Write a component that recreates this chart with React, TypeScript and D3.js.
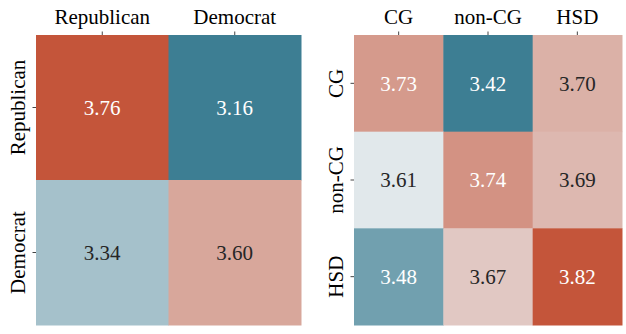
import React, { useEffect, useRef } from "react";
import * as d3 from "d3";

const leftLabels = ["Republican", "Democrat"];
const leftValues = [
  [3.76, 3.16],
  [3.34, 3.6],
];
const rightLabels = ["CG", "non-CG", "HSD"];
const rightValues = [
  [3.73, 3.42, 3.7],
  [3.61, 3.74, 3.69],
  [3.48, 3.67, 3.82],
];

const BLUE = "#3d7e93";
const MID = "#eaeef0";
const RED = "#c4553a";
const FONT = "'Liberation Serif', 'Times New Roman', serif";

function luminance(c: string) {
  const rgb = d3.rgb(c);
  const f = (v: number) => {
    const s = v / 255;
    return s <= 0.03928 ? s / 12.92 : Math.pow((s + 0.055) / 1.055, 2.4);
  };
  return 0.2126 * f(rgb.r) + 0.7152 * f(rgb.g) + 0.0722 * f(rgb.b);
}

function drawHeatmap(
  svg: d3.Selection<SVGSVGElement, unknown, null, undefined>,
  labels: string[],
  values: number[][],
  x0: number,
  x1: number,
  y0: number,
  y1: number
) {
  const flat = values.flat();
  const vmin = d3.min(flat)!;
  const vmax = d3.max(flat)!;
  const color = d3
    .scaleLinear<string>()
    .domain([vmin, (vmin + vmax) / 2, vmax])
    .range([BLUE, MID, RED])
    .interpolate(d3.interpolateRgb);
  const x = d3.scaleBand<string>().domain(labels).range([x0, x1]).padding(0);
  const y = d3.scaleBand<string>().domain(labels).range([y0, y1]).padding(0);
  const g = svg.append("g");
  const cells: { r: string; c: string; v: number }[] = [];
  values.forEach((row, i) =>
    row.forEach((v, j) => cells.push({ r: labels[i], c: labels[j], v }))
  );
  g.selectAll("rect.cell")
    .data(cells)
    .enter()
    .append("rect")
    .attr("x", (d) => x(d.c)!)
    .attr("y", (d) => y(d.r)!)
    .attr("width", x.bandwidth() + 0.5)
    .attr("height", y.bandwidth() + 0.5)
    .attr("fill", (d) => color(d.v));
  g.selectAll("text.annot")
    .data(cells)
    .enter()
    .append("text")
    .attr(
      "transform",
      (d) =>
        `translate(${x(d.c)! + x.bandwidth() / 2},${y(d.r)! + y.bandwidth() / 2}) rotate(0.01)`
    )
    .attr("dy", "0.35em")
    .attr("text-anchor", "middle")
    .style("font-family", FONT)
    .style("font-size", "21px")
    .attr("fill", (d) => (luminance(color(d.v)) < 0.408 ? "#ffffff" : "#262626"))
    .text((d) => d.v.toFixed(2));

  const top = svg
    .append("g")
    .attr("transform", `translate(0,${y0})`)
    .call(d3.axisTop(x).tickSizeOuter(0).tickSizeInner(3.5).tickPadding(7.5));
  top.select(".domain").remove();
  top.selectAll("line").attr("stroke", "#444");
  top
    .selectAll("text")
    .attr("y", null)
    .attr("transform", "translate(0,-11) rotate(0.01)")
    .style("font-family", FONT)
    .style("font-size", "21px")
    .attr("fill", "#000");

  const left = svg
    .append("g")
    .attr("transform", `translate(${x0},0)`)
    .call(d3.axisLeft(y).tickSizeOuter(0).tickSizeInner(3.5).tickPadding(7.5));
  left.select(".domain").remove();
  left.selectAll("line").attr("stroke", "#444");
  left
    .selectAll("text")
    .attr("x", null)
    .attr("dy", "0")
    .attr("transform", "translate(-11,0) rotate(-90)")
    .attr("text-anchor", "middle")
    .style("font-family", FONT)
    .style("font-size", "21px")
    .attr("fill", "#000");
}

export default function App() {
  const ref = useRef<SVGSVGElement>(null);
  useEffect(() => {
    const svg = d3.select(ref.current!);
    svg.selectAll("*").remove();
    drawHeatmap(svg, leftLabels, leftValues, 36, 301, 35, 325);
    drawHeatmap(svg, rightLabels, rightValues, 354, 622, 35, 325);
  }, []);
  return (
    <svg
      ref={ref}
      width={626}
      height={334}
      style={{ position: "absolute", left: 0, top: 0, background: "#fff" }}
    />
  );
}
